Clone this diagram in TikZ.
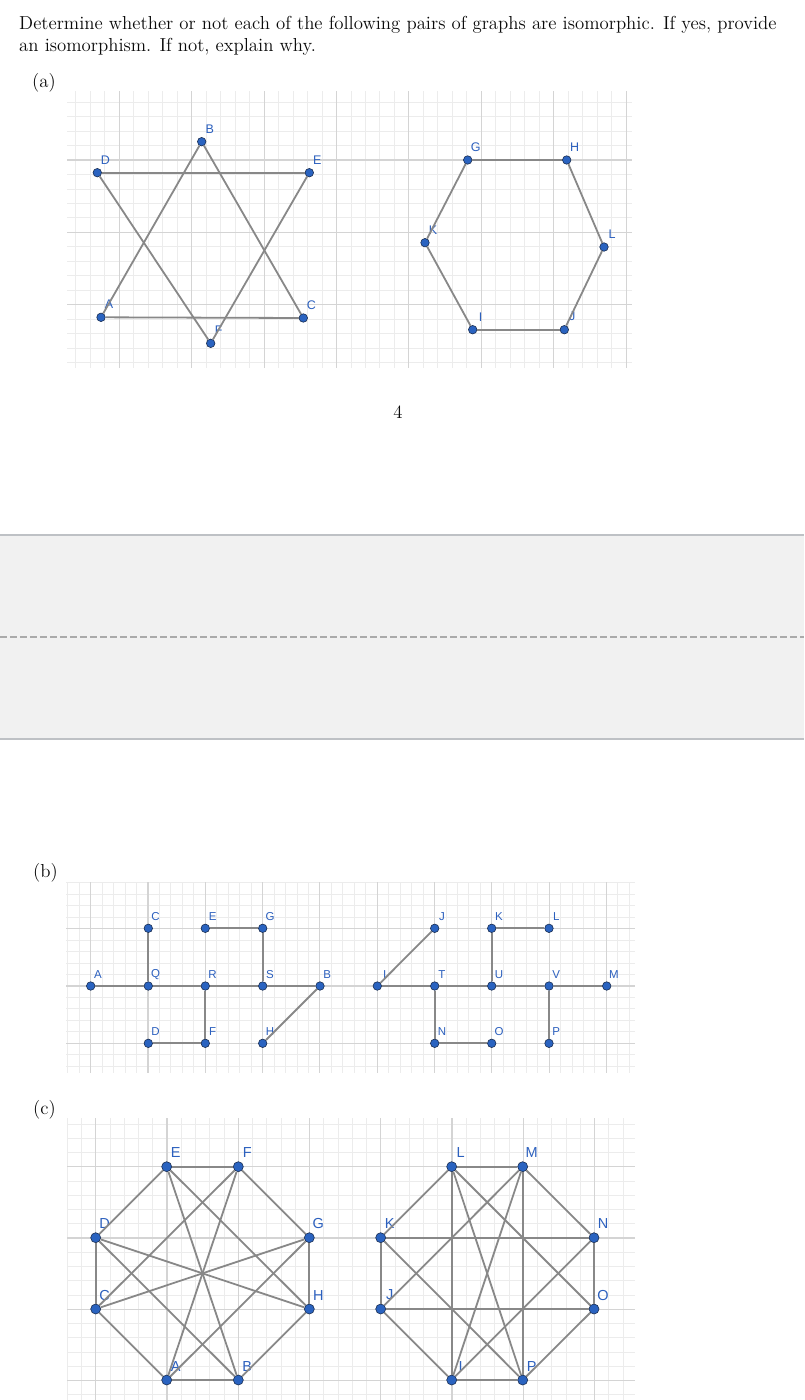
\documentclass[tikz,border=0pt]{standalone}
\usepackage{fontspec}
\setmainfont{lmroman12-regular.otf}
\newfontfamily\lblfont{Liberation Sans}
\usetikzlibrary{calc}
\definecolor{ptfill}{RGB}{42,99,192}
\definecolor{ptline}{RGB}{25,45,80}
\definecolor{lblcol}{RGB}{44,96,190}
\definecolor{edgecol}{RGB}{136,136,136}
\definecolor{majgrid}{RGB}{212,212,212}
\definecolor{mingrid}{RGB}{236,236,236}
\definecolor{bandfill}{RGB}{241,241,241}
\definecolor{bandline}{RGB}{190,193,197}
\definecolor{dashcol}{RGB}{170,170,170}
\definecolor{txtcol}{RGB}{10,10,10}
\tikzset{
  txt/.style={inner sep=0pt, text=txtcol, font=\fontsize{18.8}{23}\selectfont},
  gmin/.style={draw=mingrid, line width=0.9pt},
  gmaj/.style={draw=majgrid, line width=1.1pt},
  edg/.style={draw=edgecol, line width=1.8pt},
  vbase/.style={circle, inner sep=0pt, fill=ptfill, draw=ptline, line width=0.6pt},
  va/.style={vbase, minimum size=8.5pt},
  vb/.style={vbase, minimum size=8.5pt},
  vc/.style={vbase, minimum size=10pt},
  lbase/.style={inner sep=0pt, text=lblcol},
  la/.style={lbase, font=\lblfont\fontsize{12.5}{13}\selectfont, xshift=8pt, yshift=13pt},
  lb/.style={lbase, font=\lblfont\fontsize{11.5}{12}\selectfont, xshift=7.3pt, yshift=11.5pt},
  lc/.style={lbase, font=\lblfont\fontsize{14.5}{15}\selectfont, xshift=9pt, yshift=14pt},
}
% vertex: name, x, y, label, part
\newcommand\gv[5]{\node[v#5] (#5#1) at (#2,#3) {}; \node[l#5] (#5#1l) at (#5#1) {#4};}
\begin{document}
\begin{tikzpicture}[x=1pt,y=-1pt]
\useasboundingbox (0,0) rectangle (804,1400);
\fill[white] (0,0) rectangle (804,1400);

% ---------- texts ----------
\node[txt, anchor=base west] (t1) at (19,29) {Determine whether or not each of the following pairs of graphs are isomorphic. If yes, provide};
\node[txt, anchor=base west] (t2) at (19,51.5) {an isomorphism. If not, explain why.};
\node[txt, anchor=base west] (pa) at (32,87) {(a)};
\node[txt, anchor=base] (pg) at (398,418) {4};
\node[txt, anchor=base west] (pb) at (33,877) {(b)};
\node[txt, anchor=base west] (pc) at (33,1114) {(c)};

% ---------- answer band ----------
\fill[bandfill] (0,535) rectangle (804,739);
\draw[bandline, line width=1.7pt] (0,535) -- (804,535);
\draw[bandline, line width=1.7pt] (0,739) -- (804,739);
\draw[dashcol, line width=2pt, dash pattern=on 6.7pt off 3.3pt] (0,637) -- (804,637);

% ---------- grid (a) ----------
\begin{scope}
\clip (67,91) rectangle (632,368);
\foreach \k in {-4,...,40} \draw[gmin] ({119.3+\k*14.48},91) -- ({119.3+\k*14.48},368);
\foreach \k in {-5,...,15} \draw[gmin] (67,{160+\k*14.48}) -- (632,{160+\k*14.48});
\foreach \k in {-1,...,8} \draw[gmaj] ({119.3+\k*72.4},91) -- ({119.3+\k*72.4},368);
\foreach \k in {-1,...,3} \draw[gmaj] (67,{160+\k*72.4}) -- (632,{160+\k*72.4});
\end{scope}
% ---------- grid (b) ----------
\begin{scope}
\clip (66,882) rectangle (635,1073);
\foreach \k in {-3,...,48} \draw[gmin] ({90.7+\k*11.46},882) -- ({90.7+\k*11.46},1073);
\foreach \k in {-10,...,8} \draw[gmin] (66,{986+\k*11.46}) -- (635,{986+\k*11.46});
\foreach \k in {-1,...,10} \draw[gmaj] ({90.7+\k*57.3},882) -- ({90.7+\k*57.3},1073);
\foreach \k in {-2,...,2} \draw[gmaj] (66,{986+\k*57.3}) -- (635,{986+\k*57.3});
\end{scope}
% ---------- grid (c) ----------
\begin{scope}
\clip (67,1118) rectangle (635,1400);
\foreach \k in {-3,...,39} \draw[gmin] ({95.7+\k*14.25},1118) -- ({95.7+\k*14.25},1400);
\foreach \k in {-4,...,17} \draw[gmin] (67,{1166.7+\k*14.25}) -- (635,{1166.7+\k*14.25});
\foreach \k in {-1,...,8} \draw[gmaj] ({95.7+\k*71.25},1118) -- ({95.7+\k*71.25},1400);
\foreach \k in {-1,...,4} \draw[gmaj] (67,{1166.7+\k*71.25}) -- (635,{1166.7+\k*71.25});
\end{scope}

% ---------- graph (a) ----------
\gv{D}{97.3}{172.7}{D}{a}
\gv{E}{309.3}{172.7}{E}{a}
\gv{B}{201.7}{141.7}{B}{a}
\gv{A}{101}{317.3}{A}{a}
\gv{C}{303.3}{318}{C}{a}
\gv{F}{210.7}{343.3}{F}{a}
\gv{G}{467.7}{160}{G}{a}
\gv{H}{566.7}{160}{H}{a}
\gv{K}{425}{242.7}{K}{a}
\gv{L}{604}{247}{L}{a}
\gv{I}{472.7}{329.7}{I}{a}
\gv{J}{564.3}{329.7}{J}{a}
\foreach \u/\v in {D/E,D/F,B/A,B/C,E/F,A/C,G/H,H/L,L/J,J/I,I/K,K/G}
  \draw[edg] (a\u) -- (a\v);

% ---------- graph (b) ----------
\gv{C}{148.3}{928.3}{C}{b}
\gv{E}{205.3}{928.3}{E}{b}
\gv{G}{262.7}{928.3}{G}{b}
\gv{A}{90.7}{986}{A}{b}
\gv{Q}{148.3}{986}{Q}{b}
\gv{R}{205.3}{986}{R}{b}
\gv{S}{262.7}{986}{S}{b}
\gv{B}{320}{986}{B}{b}
\gv{D}{148.3}{1043.3}{D}{b}
\gv{F}{205.3}{1043.3}{F}{b}
\gv{H}{262.7}{1043.3}{H}{b}
\gv{J}{434.7}{928.3}{J}{b}
\gv{K}{491.7}{928.3}{K}{b}
\gv{L}{549}{928.3}{L}{b}
\gv{I}{377.3}{986}{I}{b}
\gv{T}{434.7}{986}{T}{b}
\gv{U}{491.7}{986}{U}{b}
\gv{V}{549}{986}{V}{b}
\gv{M}{606.7}{986}{M}{b}
\gv{N}{434.7}{1043.3}{N}{b}
\gv{O}{491.7}{1043.3}{O}{b}
\gv{P}{549}{1043.3}{P}{b}
\foreach \u/\v in {A/Q,Q/R,R/S,S/B,C/Q,E/G,G/S,R/F,D/F,B/H,I/J,I/T,T/U,U/V,V/M,K/L,K/U,T/N,N/O,V/P}
  \draw[edg] (b\u) -- (b\v);

% ---------- graph (c) ----------
\gv{E}{166.7}{1166.7}{E}{c}
\gv{F}{238.3}{1166.7}{F}{c}
\gv{D}{95.7}{1237.7}{D}{c}
\gv{G}{309.3}{1237.7}{G}{c}
\gv{C}{95.7}{1309}{C}{c}
\gv{H}{309.3}{1309}{H}{c}
\gv{A}{166.7}{1380}{A}{c}
\gv{B}{238.3}{1380}{B}{c}
\gv{L}{451.7}{1166.7}{L}{c}
\gv{M}{522.7}{1166.7}{M}{c}
\gv{K}{380.7}{1237.7}{K}{c}
\gv{N}{594}{1237.7}{N}{c}
\gv{J}{380.7}{1309}{J}{c}
\gv{O}{594}{1309}{O}{c}
\gv{I}{451.7}{1380}{I}{c}
\gv{P}{522.7}{1380}{P}{c}
\foreach \u/\v in {E/F,F/G,G/H,H/B,B/A,A/C,C/D,D/E,E/B,F/A,D/H,C/G,E/H,D/B,F/C,G/A}
  \draw[edg] (c\u) -- (c\v);
\foreach \u/\v in {L/M,M/N,N/O,O/P,P/I,I/J,J/K,K/L,L/I,M/P,K/N,J/O,L/P,L/O,M/J,M/I,K/P,N/I}
  \draw[edg] (c\u) -- (c\v);
\end{tikzpicture}
\end{document}
